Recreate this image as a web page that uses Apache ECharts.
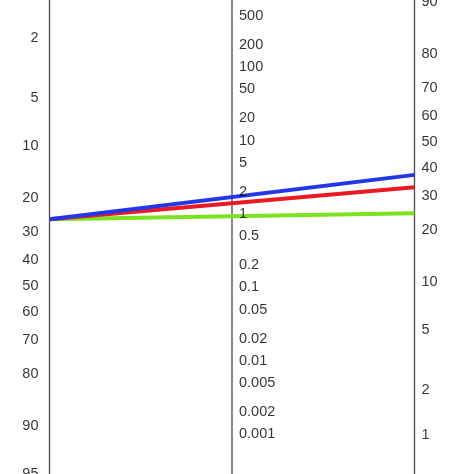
<!DOCTYPE html>
<html><head><meta charset="utf-8">
<script src="https://cdn.jsdelivr.net/npm/echarts@6/dist/echarts.min.js"></script>
<style>html,body{margin:0;padding:0;background:#fff}#c{width:474px;height:474px}</style>
</head><body><div id="c"></div>
<script>
// Pre-test probability axis (%) — left
const preTicks = [1, 2, 5, 10, 20, 30, 40, 50, 60, 70, 80, 90, 95, 99];
// Likelihood ratio axis — middle
const lrTicks = [1000, 500, 200, 100, 50, 20, 10, 5, 2, 1, 0.5, 0.2, 0.1, 0.05, 0.02, 0.01, 0.005, 0.002, 0.001];
// Post-test probability axis (%) — right
const postTicks = [99, 95, 90, 80, 70, 60, 50, 40, 30, 20, 10, 5, 2, 1, 0.5];
// Lines: pre-test probability (%) and likelihood ratio
const lineNames = ['green', 'red', 'blue'];
const lineColors = ['#7be31f', '#ea1a24', '#2437e6'];
const preTest = [26, 26, 26];
const lrValues = [0.93, 1.4, 1.7];

const OFF = 2.257; // offset between left and right scales (logit units)
const logit = p => Math.log(p / (1 - p));
const uLeft = pct => -logit(pct / 100);
const uRight = pct => logit(pct / 100) + OFF;
const uMid = lr => (Math.log(lr) + OFF) / 2;

const YMIN = -2.947, YMAX = 4.483;
const font = '"Liberation Sans", Arial, Helvetica, sans-serif';

function labelSeries(vals, x, fn, pos, dist) {
  return {
    type: 'scatter', symbolSize: 0, silent: true, clip: false,
    data: vals.map(v => ({ value: [x, fn(v)], name: String(v) })),
    label: { show: true, position: pos, distance: dist, formatter: p => p.name,
      color: '#000', fontSize: 14.5, fontFamily: font },
    z: 5
  };
}
function axisLine(x) {
  return { type: 'line', silent: true, symbol: 'none', clip: false,
    data: [[x, YMIN], [x, YMAX]], lineStyle: { color: '#4a4a4a', width: 1.3 }, z: 1 };
}
const series = [axisLine(0), axisLine(1), axisLine(2),
  labelSeries(preTicks, 0, uLeft, 'left', 11),
  labelSeries(lrTicks, 1, uMid, 'right', 7),
  labelSeries(postTicks, 2, uRight, 'right', 7)];
lineNames.forEach((n, i) => {
  const pre = preTest[i] / 100;
  const odds = pre / (1 - pre) * lrValues[i];
  const post = odds / (1 + odds) * 100;
  series.push({ type: 'line', name: n, symbol: 'none', silent: true,
    data: [[0, uLeft(preTest[i])], [2, uRight(post)]],
    lineStyle: { color: lineColors[i], width: 4 }, z: 3 + i });
});

const chart = echarts.init(document.getElementById('c'));
chart.setOption({
  animation: false,
  grid: { left: 49.5, right: 59.5, top: 0, bottom: 0 },
  xAxis: { type: 'value', min: 0, max: 2, show: false },
  yAxis: { type: 'value', min: YMIN, max: YMAX, show: false },
  series
});
</script></body></html>
